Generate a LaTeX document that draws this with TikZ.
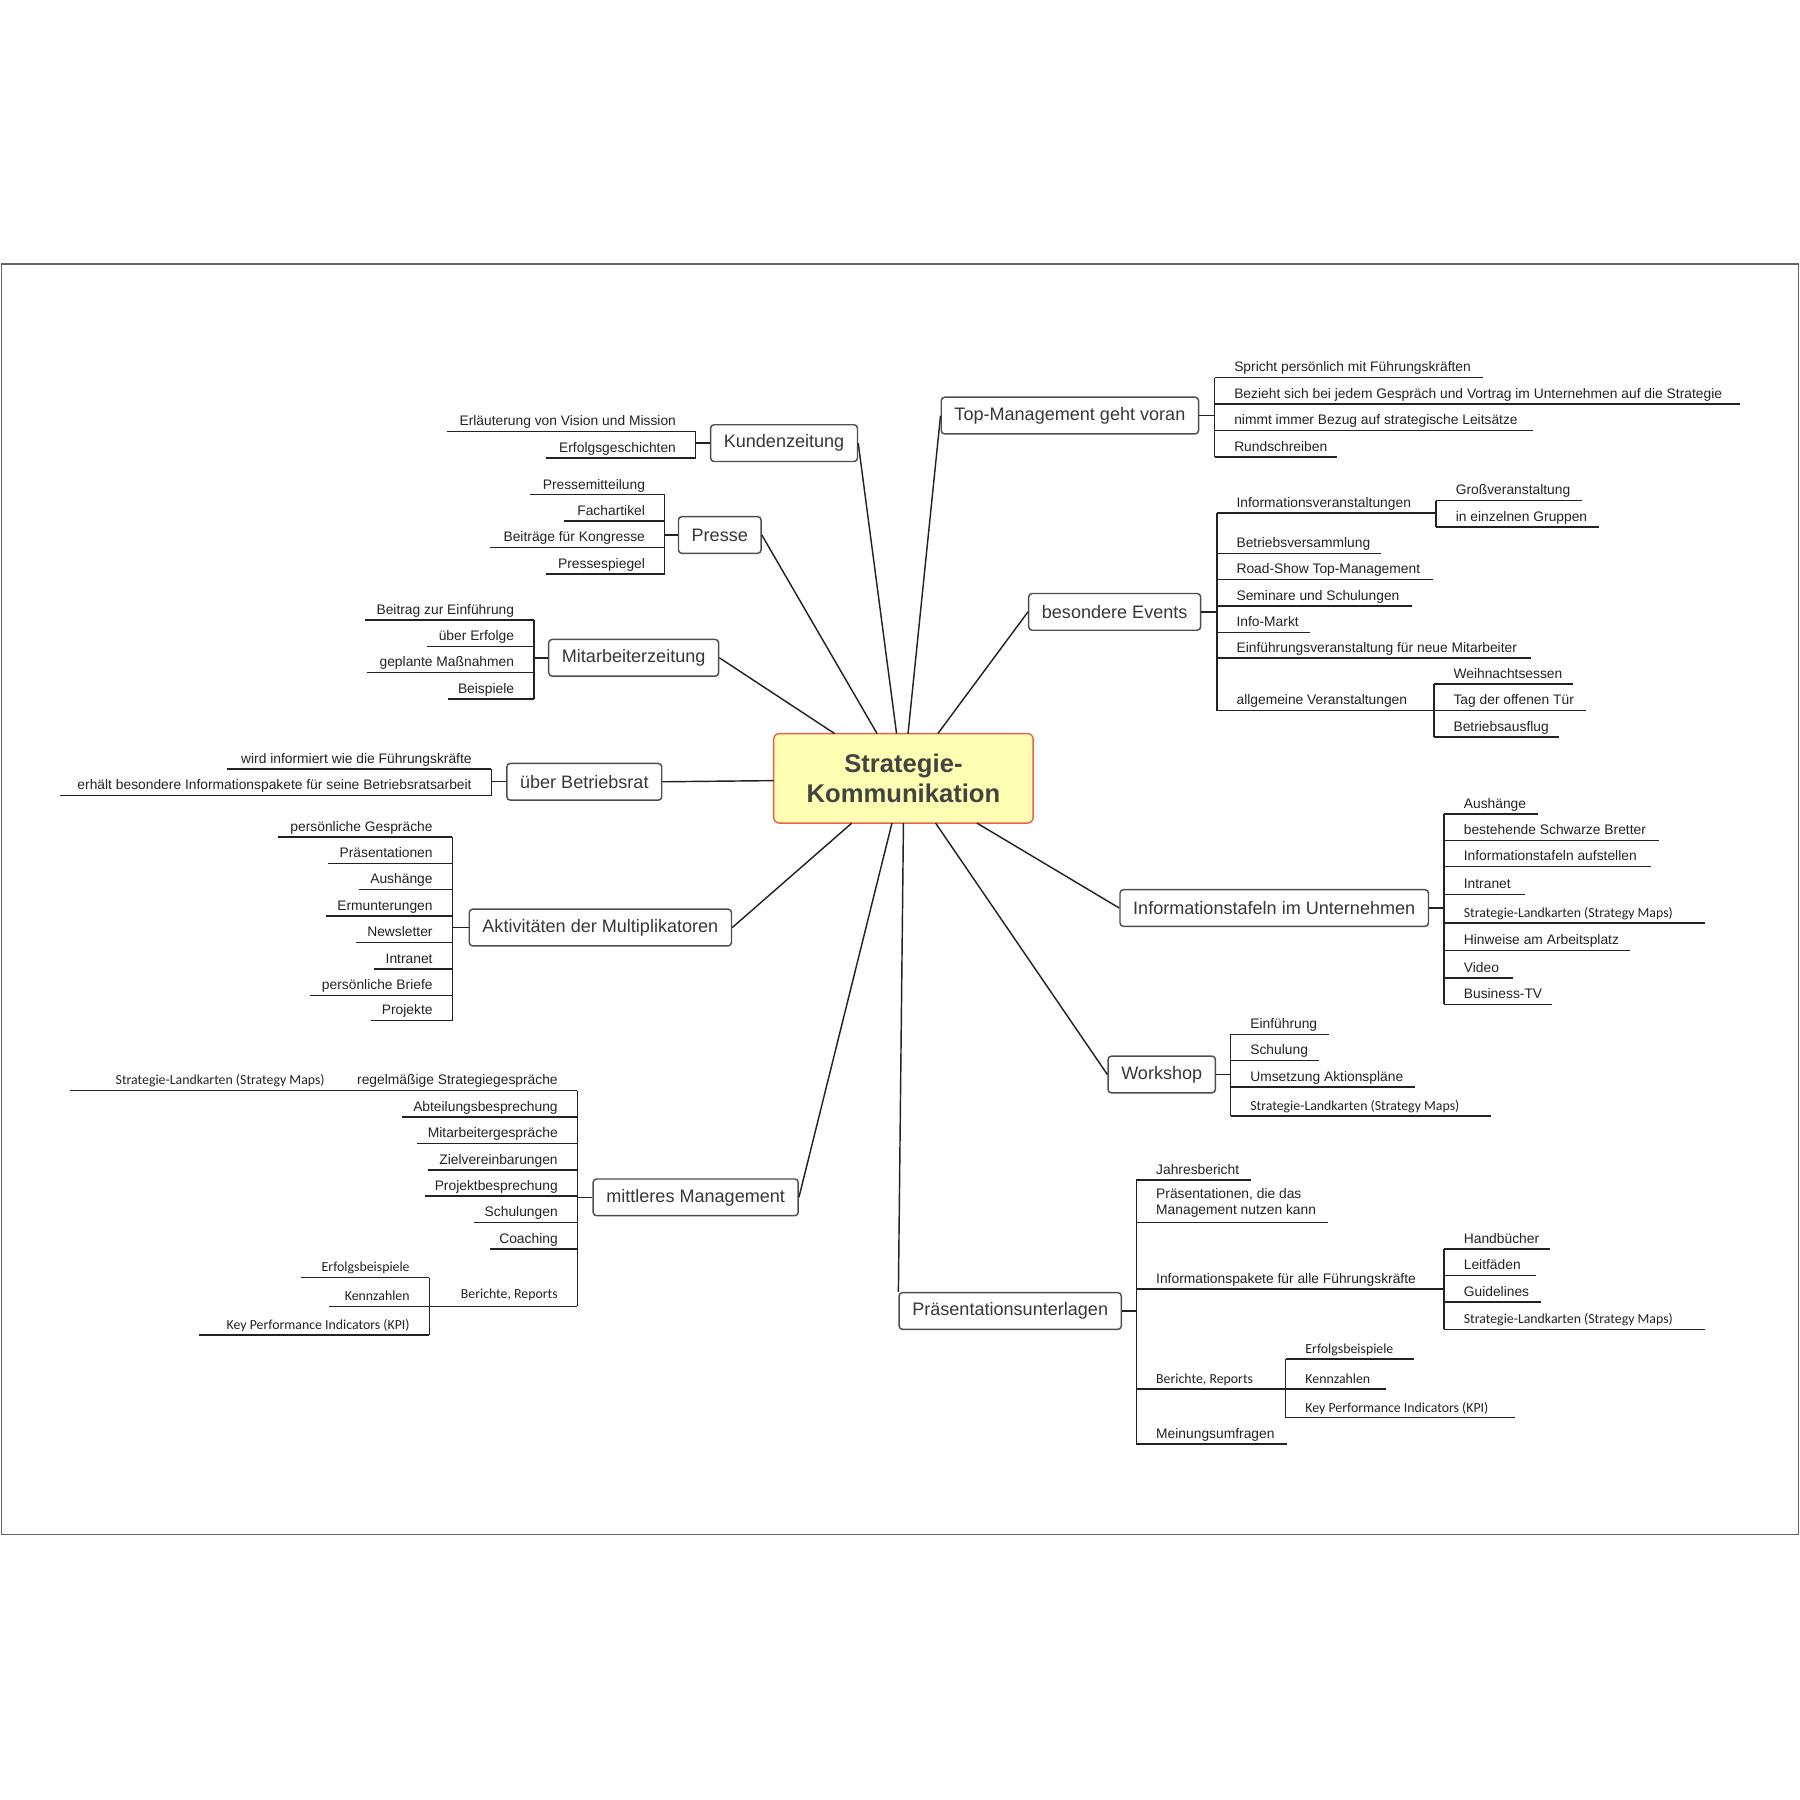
\documentclass[tikz,border=0pt]{standalone}
\usepackage{fontspec}
\setmainfont{Liberation Sans}
\newfontfamily\calfont{Carlito}
\usetikzlibrary{positioning}
\definecolor{coreFill}{HTML}{FFFFB3}
\definecolor{coreLine}{HTML}{E8624A}
\definecolor{inkText}{HTML}{222222}
\tikzset{
  leaf/.style={inner sep=0pt, text=inkText, font=\fontsize{13.7}{16}\selectfont},
  twig/.style={line width=0.05cm, inkText},
  topic/.style={draw=inkText!80, line width=0.05cm, rounded corners=0.12cm, fill=white,
    minimum height=1.28cm, inner xsep=0.46cm, text=inkText!90, font=\fontsize{17.9}{20}\selectfont},
  core/.style={draw=coreLine, line width=0.05cm, rounded corners=0.2cm, fill=coreFill,
    minimum width=9.04cm, minimum height=3.12cm, align=center, text=inkText!85,
    font=\fontsize{25.4}{29}\selectfont\bfseries}
}
% leaf left of its spine: underline from #2 to #3 at height #4
\newcommand{\leafL}[5]{\node[leaf, anchor=base east] (#1) at ({#3-17},{#4-5}) {#5};
  \draw[twig] (#2,#4) -- (#3,#4);}
% leaf right of its spine
\newcommand{\leafR}[5]{\node[leaf, anchor=base west] (#1) at ({#2+17},{#4-5}) {#5};
  \draw[twig] (#2,#4) -- (#3,#4);}
\begin{document}
\begin{tikzpicture}[x=0.04cm, y=-0.04cm]
\useasboundingbox (0,0) rectangle (1568,1568);
\draw[line width=0.04cm, inkText!70] (1,230) rectangle (1567,1337);

% centre
\node[core] (c) at (787,678) {Strategie-\\Kommunikation};

% main topics
\node[topic] (kz) at (683,386) {Kundenzeitung};
\node[topic] (pr) at (627,466) {Presse};
\node[topic] (mz) at (552,573) {Mitarbeiterzeitung};
\node[topic] (br) at (509,681) {über Betriebsrat};
\node[topic] (ak) at (523,808) {Aktivitäten der Multiplikatoren};
\node[topic] (mm) at (606,1043) {mittleres Management};
\node[topic] (tm) at (932,362) {Top-Management geht voran};
\node[topic] (be) at (971,533) {besondere Events};
\node[topic] (it) at (1110,791) {Informationstafeln im Unternehmen};
\node[topic] (ws) at (1012,936) {Workshop};
\node[topic] (pu) at (880,1142) {Präsentationsunterlagen};

% anchors on the centre box
\coordinate (c-kz) at (781,639);
\coordinate (c-pr) at (764,639);
\coordinate (c-mz) at (727,639);
\coordinate (c-br) at (674,680);
\coordinate (c-ak) at (742,717);
\coordinate (c-mm) at (777,717);
\coordinate (c-pu) at (787,717);
\coordinate (c-ws) at (815,717);
\coordinate (c-it) at (851,717);
\coordinate (c-be) at (817,639);
\coordinate (c-tm) at (791,639);

\draw[twig] (c-kz) -- (kz.east);
\draw[twig] (c-pr) -- (pr.east);
\draw[twig] (c-mz) -- (mz.east);
\draw[twig] (c-br) -- (br.east);
\draw[twig] (c-ak) -- (ak.east);
\draw[twig] (c-mm) -- (mm.east);
\draw[twig] (c-pu) -- (pu.north west);
\draw[twig] (c-ws) -- (ws.west);
\draw[twig] (c-it) -- (it.west);
\draw[twig] (c-be) -- (be.west);
\draw[twig] (c-tm) -- (tm.west);

% Kundenzeitung
\draw[twig] (kz.west) -- (606,386);
\draw[twig] (606,376) -- (606,399);
\leafL{kz1}{389}{606}{376}{Erläuterung von Vision und Mission}
\leafL{kz2}{476}{606}{399}{Erfolgsgeschichten}

% Presse
\draw[twig] (pr.west) -- (579,466);
\draw[twig] (579,431) -- (579,500);
\leafL{pr1}{462}{579}{431}{Pressemitteilung}
\leafL{pr2}{491}{579}{454}{Fachartikel}
\leafL{pr3}{427}{579}{477}{Beiträge für Kongresse}
\leafL{pr4}{476}{579}{500}{Pressespiegel}

% Mitarbeiterzeitung
\draw[twig] (mz.west) -- (465,573);
\draw[twig] (465,540) -- (465,609);
\leafL{mz1}{318}{465}{540}{Beitrag zur Einführung}
\leafL{mz2}{372}{465}{563}{über Erfolge}
\leafL{mz3}{320}{465}{586}{geplante Maßnahmen}
\leafL{mz4}{390}{465}{609}{Beispiele}

% Betriebsrat
\draw[twig] (br.west) -- (428,681);
\draw[twig] (428,670) -- (428,693);
\leafL{br1}{198}{428}{670}{wird informiert wie die Führungskräfte}
\leafL{br2}{52}{428}{693}{erhält besondere Informationspakete für seine Betriebsratsarbeit}

% Multiplikatoren
\draw[twig] (ak.west) -- (394,808);
\draw[twig] (394,729) -- (394,889);
\leafL{ak1}{242}{394}{729}{persönliche Gespräche}
\leafL{ak2}{286}{394}{752}{Präsentationen}
\leafL{ak3}{313}{394}{775}{Aushänge}
\leafL{ak4}{284}{394}{798}{Ermunterungen}
\leafL{ak5}{310}{394}{821}{Newsletter}
\leafL{ak6}{326}{394}{844}{Intranet}
\leafL{ak7}{270}{394}{867}{persönliche Briefe}
\leafL{ak8}{323}{394}{889}{Projekte}

% mittleres Management
\draw[twig] (mm.west) -- (503,1043);
\draw[twig] (503,950) -- (503,1138);
\leafL{mm1}{300}{503}{950}{regelmäßige Strategiegespräche}
\leafL{mm1a}{61}{300}{950}{\calfont Strategie-Landkarten (Strategy Maps)}
\leafL{mm2}{350}{503}{973}{Abteilungsbesprechung}
\leafL{mm3}{363}{503}{996}{Mitarbeitergespräche}
\leafL{mm4}{373}{503}{1019}{Zielvereinbarungen}
\leafL{mm5}{370}{503}{1042}{Projektbesprechung}
\leafL{mm6}{413}{503}{1065}{Schulungen}
\leafL{mm7}{427}{503}{1088}{Coaching}
\node[leaf, anchor=base east] (mm8) at (486,1131) {\calfont Berichte, Reports};
\draw[twig] (374,1138) -- (503,1138);
\draw[twig] (374,1113) -- (374,1163);
\leafL{mm8a}{262}{374}{1113}{\calfont Erfolgsbeispiele}
\leafL{mm8b}{287}{374}{1138}{\calfont Kennzahlen}
\leafL{mm8c}{173}{374}{1163}{\calfont Key Performance Indicators (KPI)}

% Top-Management
\draw[twig] (tm.east) -- (1058,362);
\draw[twig] (1058,329) -- (1058,398);
\leafR{tm1}{1058}{1292}{329}{Spricht persönlich mit Führungskräften}
\leafR{tm2}{1058}{1516}{352}{Bezieht sich bei jedem Gespräch und Vortrag im Unternehmen auf die Strategie}
\leafR{tm3}{1058}{1335}{375}{nimmt immer Bezug auf strategische Leitsätze}
\leafR{tm4}{1058}{1165}{398}{Rundschreiben}

% besondere Events
\draw[twig] (be.east) -- (1060,533);
\draw[twig] (1060,447) -- (1060,619);
\leafR{be1}{1060}{1251}{447}{Informationsveranstaltungen}
\draw[twig] (1251,436) -- (1251,459);
\leafR{be1a}{1251}{1378}{436}{Großveranstaltung}
\leafR{be1b}{1251}{1393}{459}{in einzelnen Gruppen}
\leafR{be2}{1060}{1203}{482}{Betriebsversammlung}
\leafR{be3}{1060}{1248}{505}{Road-Show Top-Management}
\leafR{be4}{1060}{1230}{528}{Seminare und Schulungen}
\leafR{be5}{1060}{1141}{551}{Info-Markt}
\leafR{be6}{1060}{1334}{573}{Einführungsveranstaltung für neue Mitarbeiter}
\leafR{be7}{1060}{1249}{619}{allgemeine Veranstaltungen}
\draw[twig] (1249,596) -- (1249,642);
\leafR{be7a}{1249}{1370}{596}{Weihnachtsessen}
\leafR{be7b}{1249}{1382}{619}{Tag der offenen Tür}
\leafR{be7c}{1249}{1358}{642}{Betriebsausflug}

% Informationstafeln
\draw[twig] (it.east) -- (1258,791);
\draw[twig] (1258,709) -- (1258,875);
\leafR{it1}{1258}{1340}{709}{Aushänge}
\leafR{it2}{1258}{1445}{732}{bestehende Schwarze Bretter}
\leafR{it3}{1258}{1438}{755}{Informationstafeln aufstellen}
\leafR{it4}{1258}{1328}{779}{Intranet}
\leafR{it5}{1258}{1485}{804}{\calfont Strategie-Landkarten (Strategy Maps)}
\leafR{it6}{1258}{1420}{828}{Hinweise am Arbeitsplatz}
\leafR{it7}{1258}{1318}{852}{Video}
\leafR{it8}{1258}{1352}{875}{Business-TV}

% Workshop
\draw[twig] (ws.east) -- (1072,936);
\draw[twig] (1072,901) -- (1072,972);
\leafR{ws1}{1072}{1158}{901}{Einführung}
\leafR{ws2}{1072}{1149}{924}{Schulung}
\leafR{ws3}{1072}{1233}{947}{Umsetzung Aktionspläne}
\leafR{ws4}{1072}{1299}{972}{\calfont Strategie-Landkarten (Strategy Maps)}

% Praesentationsunterlagen
\draw[twig] (pu.east) -- (990,1142);
\draw[twig] (990,1028) -- (990,1258);
\leafR{pu1}{990}{1090}{1028}{Jahresbericht}
\node[leaf, anchor=south west, align=left] (pu2) at (1007,1061)
  {Präsentationen, die das\\Management nutzen kann};
\draw[twig] (990,1065) -- (1157,1065);
\leafR{pu3}{990}{1258}{1123}{Informationspakete für alle Führungskräfte}
\draw[twig] (1258,1088) -- (1258,1158);
\leafR{pu3a}{1258}{1350}{1088}{Handbücher}
\leafR{pu3b}{1258}{1338}{1111}{Leitfäden}
\leafR{pu3c}{1258}{1342}{1134}{Guidelines}
\leafR{pu3d}{1258}{1485}{1158}{\calfont Strategie-Landkarten (Strategy Maps)}
\leafR{pu4}{990}{1120}{1210}{\calfont Berichte, Reports}
\draw[twig] (1120,1184) -- (1120,1235);
\leafR{pu4a}{1120}{1232}{1184}{\calfont Erfolgsbeispiele}
\leafR{pu4b}{1120}{1207}{1210}{\calfont Kennzahlen}
\leafR{pu4c}{1120}{1320}{1235}{\calfont Key Performance Indicators (KPI)}
\leafR{pu5}{990}{1121}{1258}{Meinungsumfragen}
\end{tikzpicture}
\end{document}
